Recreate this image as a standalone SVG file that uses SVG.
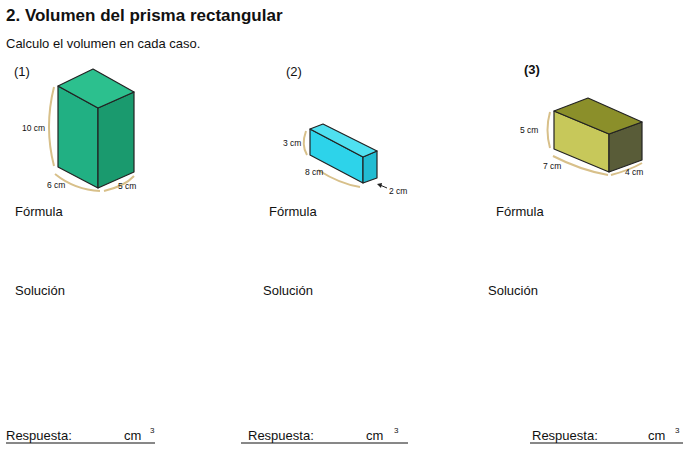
<svg xmlns="http://www.w3.org/2000/svg" width="689" height="449" viewBox="0 0 689 449">
<style>
text{font-family:"Liberation Sans",Arial,sans-serif;fill:#111}
.t{font-size:13px}
.s{font-size:8.5px}
.e{stroke:#222;stroke-width:1.2;stroke-linejoin:round}
.b{fill:none;stroke:#d8c08a;stroke-width:2}
.u{stroke:#111;stroke-width:1}
</style>
<rect width="689" height="449" fill="#fff"/>
<text x="6" y="21" font-size="17" font-weight="bold">2. Volumen del prisma rectangular</text>
<text x="6" y="48" class="t">Calculo el volumen en cada caso.</text>
<text x="14" y="76" class="t">(1)</text>
<text x="286" y="76" class="t">(2)</text>
<text x="524" y="74" class="t" font-weight="bold">(3)</text>
<g id="box1">
<polygon class="e" points="58,86 98,108 98,188 58,167" fill="#21b083"/>
<polygon class="e" points="98,108 134,92 134,172 98,188" fill="#1a9a6e"/>
<polygon class="e" points="58,86 93,69 134,92 98,108" fill="#2cc08e"/>
<path class="b" d="M54,87 Q44,127 54,166 M55,174 Q75,190 100,191 M104,191 Q125,186 134,176"/>
<text x="22" y="131" class="s">10 cm</text>
<text x="47" y="188" class="s">6 cm</text>
<text x="118" y="189" class="s">5 cm</text>
</g>
<g id="box2">
<polygon class="e" points="310,129 363,157 363,183 310,155" fill="#2dd3ea"/>
<polygon class="e" points="363,157 377,151 377,178 363,183" fill="#22bcd2"/>
<polygon class="e" points="310,129 323,124 377,151 363,157" fill="#4fe0f0"/>
<path class="b" d="M306,131 Q301,145 307,155 M318,170 Q340,184 360,187"/>
<text x="283" y="146" class="s">3 cm</text>
<text x="305" y="175" class="s">8 cm</text>
<text x="389" y="194" class="s">2 cm</text>
<path d="M387,188 L380,185" stroke="#222" stroke-width="1"/>
<polygon points="377,184 382,183 381,188" fill="#222"/>
</g>
<g id="box3">
<polygon class="e" points="554,111 609,134 609,172 554,149" fill="#c7c85a"/>
<polygon class="e" points="609,134 642,122 642,160 609,172" fill="#595c38"/>
<polygon class="e" points="554,111 588,98 642,122 609,134" fill="#8b8f2a"/>
<path class="b" d="M550,112 Q545,130 550,148 M553,156 Q580,170 608,175 M611,175 Q630,170 642,163"/>
<text x="520" y="133" class="s">5 cm</text>
<text x="543" y="169" class="s">7 cm</text>
<text x="625" y="175" class="s">4 cm</text>
</g>
<text x="15" y="216" class="t">Fórmula</text>
<text x="269" y="216" class="t">Fórmula</text>
<text x="496" y="216" class="t">Fórmula</text>
<text x="15" y="295" class="t">Solución</text>
<text x="263" y="295" class="t">Solución</text>
<text x="488" y="295" class="t">Solución</text>
<text x="6" y="440" class="t">Respuesta:</text>
<text x="124" y="440" class="t">cm</text><text x="150" y="433" font-size="8">3</text>
<line class="u" x1="6" y1="443" x2="155" y2="443"/>
<text x="248" y="440" class="t">Respuesta:</text>
<text x="366" y="440" class="t">cm</text><text x="394" y="433" font-size="8">3</text>
<line class="u" x1="241" y1="443" x2="408" y2="443"/>
<text x="532" y="440" class="t">Respuesta:</text>
<text x="648" y="440" class="t">cm</text><text x="675" y="433" font-size="8">3</text>
<line class="u" x1="530" y1="443" x2="683" y2="443"/>
</svg>
